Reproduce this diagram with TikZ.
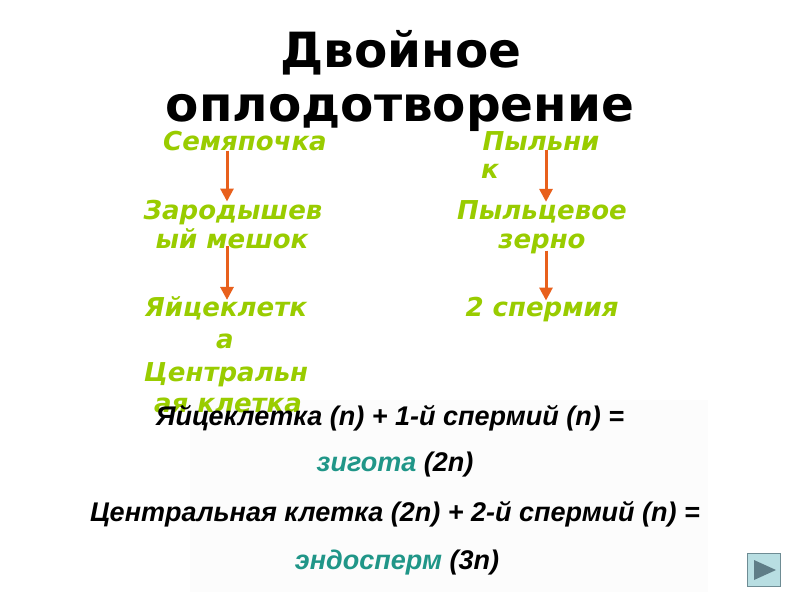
\documentclass[tikz,border=0pt]{standalone}
\usepackage{fontspec}
\setmainfont{DejaVu Sans}
\newfontfamily\libsans{Liberation Sans}
\usetikzlibrary{arrows.meta}
\definecolor{leaf}{RGB}{153,204,0}
\definecolor{arrowor}{RGB}{232,96,28}
\definecolor{teal2}{RGB}{32,150,136}
\definecolor{btnfill}{RGB}{184,222,226}
\definecolor{btnedge}{RGB}{110,140,148}
\definecolor{btntri}{RGB}{95,125,135}
\tikzset{
  title/.style={font=\fontsize{48.5}{52}\selectfont\bfseries, anchor=base, inner sep=0pt},
  green/.style={font=\fontsize{26}{28}\selectfont\bfseries\itshape, text=leaf, anchor=base, inner sep=0pt},
  eq/.style={font=\libsans\fontsize{27}{30}\selectfont\bfseries\itshape, anchor=base, inner sep=0pt},
  arr/.style={draw=arrowor, line width=3pt, -{Triangle[length=13pt,width=13pt]}},
}
\begin{document}
\begin{tikzpicture}[x=1pt,y=-1pt]
\useasboundingbox (0,0) rectangle (800,600);
\fill[white] (0,0) rectangle (800,600);
\fill[black!1.2] (190,400) rectangle (708,592);
% title
\node[title] (t1) at (401,67) {Двойное};
\node[title] (t2) at (400,121) {оплодотворение};
% left column
\node[green] (s1) at (245,150) {Семяпочка};
\node[green] (z1) at (233,219) {Зародышев};
\node[green] (z2) at (232,248) {ый мешок};
\node[green] (y1) at (226,316) {Яйцеклетк};
\node[green] (y2) at (225,348) {а};
\node[green] (c1) at (226,381) {Центральн};
\node[green] (c2) at (228,412) {ая клетка};
% right column
\node[green] (p1) at (541,150) {Пыльни};
\node[green] (p2) at (490,178) {к};
\node[green] (q1) at (542,219) {Пыльцевое};
\node[green] (q2) at (542,248) {зерно};
\node[green] (sp) at (542,316) {2 спермия};
\coordinate (xl) at (227,0);
\coordinate (xr) at (546,0);
\draw[arr] (s1.south -| xl) -- ([yshift=-2pt]z1.north -| xl);
\draw[arr] ([yshift=3pt]z2.south -| xl) -- ([yshift=-4pt]y1.north -| xl);
\draw[arr] (p1.south -| xr) -- ([yshift=-2pt]q1.north -| xr);
\draw[arr] ([yshift=3pt]q2.south -| xr) -- ([yshift=-4pt]sp.north -| xr);
% equations
\node[eq] (e1) at (390,425) {Яйцеклетка (n) + 1-й спермий (n) =};
\node[eq] (e2) at (395,471) {\textcolor{teal2}{зигота} (2n)};
\node[eq] (e3) at (395,521) {Центральная клетка (2n) + 2-й спермий (n) =};
\node[eq] (e4) at (397,569) {\textcolor{teal2}{эндосперм} (3n)};
% play button
\node[draw=btnedge, fill=btnfill, line width=1pt, minimum width=33pt, minimum height=33pt, inner sep=0pt] (btn) at (764,570) {};
\fill[btntri] ([shift={(-10pt,-10pt)}]btn.center) -- ([shift={(12pt,0pt)}]btn.center) -- ([shift={(-10pt,10pt)}]btn.center) -- cycle;
\end{tikzpicture}
\end{document}
